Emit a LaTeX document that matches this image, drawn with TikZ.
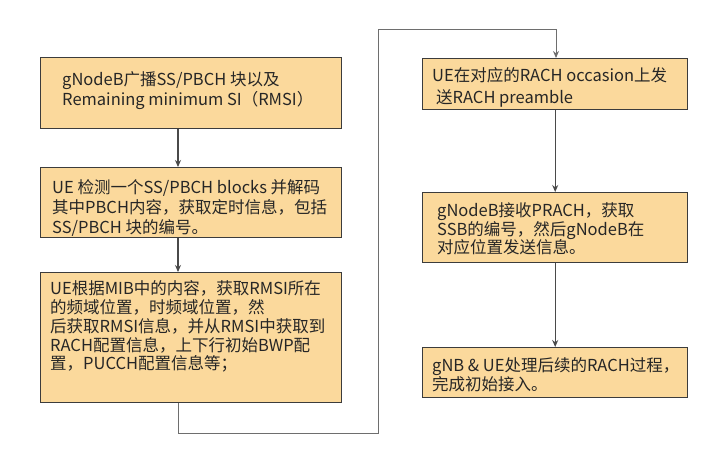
\documentclass[tikz,border=0pt]{standalone}
\usepackage{fontspec}
\setmainfont{Noto Sans CJK SC}
\usetikzlibrary{arrows.meta}
\definecolor{boxfill}{HTML}{FBD99C}
\definecolor{boxline}{HTML}{3C3C3C}
\definecolor{conn}{HTML}{4A4A4A}
\begin{document}
\begin{tikzpicture}[x=1pt,y=-1pt,
  box/.style={draw=boxline, fill=boxfill, line width=1.4pt, inner sep=0pt, anchor=north west},
  txt/.style={anchor=north west, inner sep=0pt, align=left, text=black!85,
    font=\fontsize{16.5}{19}\selectfont},
  arr/.style={draw=conn, line width=1.1pt, -{Stealth[length=7pt,width=6pt]}},
  loopline/.style={draw=conn!80, line width=0.9pt, -{Stealth[length=7pt,width=6pt]}}]
\useasboundingbox (0,0) rectangle (728,456);
% boxes
\node[box, minimum width=301pt, minimum height=71pt] (b1) at (40,57) {};
\node[box, minimum width=301pt, minimum height=70pt] (b2) at (40,167) {};
\node[box, minimum width=301pt, minimum height=130pt] (b3) at (40,272) {};
\node[box, minimum width=265pt, minimum height=51pt] (b4) at (422,58) {};
\node[box, minimum width=265pt, minimum height=70pt] (b5) at (422,192) {};
\node[box, minimum width=265pt, minimum height=50pt] (b6) at (422,347) {};
% texts
\node[txt, font=\fontsize{16.5}{20}\selectfont] (t1) at (62,71.5) {gNodeB广播SS/PBCH 块以及\\Remaining minimum SI（RMSI）};
\node[txt, font=\fontsize{16.5}{20}\selectfont] (t2) at (52,179.5) {UE 检测一个SS/PBCH blocks 并解码\\其中PBCH内容，获取定时信息，包括\\SS/PBCH 块的编号。};
\node[txt, font=\fontsize{16.5}{18.8}\selectfont] (t3) at (50,280.5) {UE根据MIB中的内容，获取RMSI所在\\的频域位置，时频域位置，然\\后获取RMSI信息，并从RMSI中获取到\\RACH配置信息，上下行初始BWP配\\置，PUCCH配置信息等；};
\node[txt, font=\fontsize{16.5}{21.5}\selectfont] (t4) at (432,67.5) {UE在对应的RACH occasion上发\\\hspace{4pt}送RACH preamble};
\node[txt, font=\fontsize{16.5}{18.5}\selectfont] (t5) at (437,202.5) {gNodeB接收PRACH，获取\\SSB的编号，然后gNodeB在\\对应位置发送信息。};
\node[txt, font=\fontsize{16.5}{17.5}\selectfont] (t6) at (432,357.5) {gNB \& UE处理后续的RACH过程，\\完成初始接入。};
% connector coordinates
\coordinate (ax) at (178,0);
\coordinate (c1) at (178,433);
\coordinate (c2) at (378,433);
\coordinate (c3) at (378,29);
\coordinate (ex) at (556,0);
% connectors
\draw[arr] (b1.south -| ax) -- (b2.north -| ax);
\draw[arr] (b2.south -| ax) -- (b3.north -| ax);
\draw[loopline] (b3.south -| ax) -- (c1) -- (c2) -- (c3) -| (b4.north -| ex);
\draw[arr] (b4.south) -- (b5.north);
\draw[arr] (b5.south) -- (b6.north);
\end{tikzpicture}
\end{document}
